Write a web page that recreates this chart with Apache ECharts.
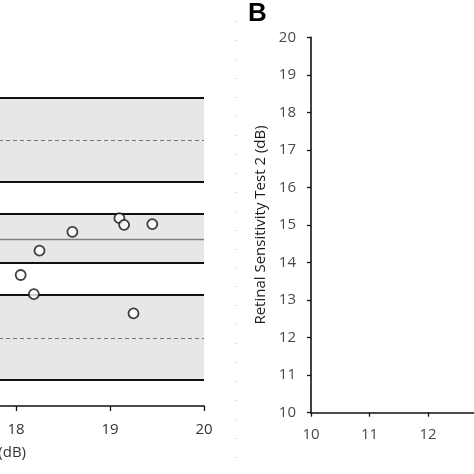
<!DOCTYPE html>
<html>
<head>
<meta charset="utf-8">
<script src="https://cdn.jsdelivr.net/npm/echarts@6/dist/echarts.min.js"></script>
<style>html,body{margin:0;padding:0;background:#fff;}#c{width:474px;height:474px;}</style>
</head>
<body>
<div id="c"></div>
<script>
// Panel A (partial): mean sensitivity (x) vs hidden y scale
const leftX = [19.10, 19.15, 19.45, 18.60, 18.25, 18.05, 18.19, 19.25];
const leftY = [5.09, 4.91, 4.93, 4.72, 4.21, 3.55, 3.03, 2.51];
const bandLimits = [[8.35, 6.07], [5.20, 3.88], [3.01, 0.70]];
const dashedLines = [7.21, 1.84];
const meanLines = [4.53];
const leftTicks = [17, 18, 19, 20];
// Panel B
const rightXTicks = [10, 11, 12, 13, 14, 15, 16, 17, 18, 19, 20];
const rightYTicks = [10, 11, 12, 13, 14, 15, 16, 17, 18, 19, 20];
const labelB = 'B';
const rightYName = 'Retinal Sensitivity Test 2 (dB)';
const leftXName = 'Mean Retinal Sensitivity (dB)';

const font = '"Open Sans", "Noto Sans", sans-serif';
const chart = echarts.init(document.getElementById('c'));

const markAreaData = bandLimits.map(b => [{ yAxis: b[0] }, { yAxis: b[1] }]);
const solidLineData = [];
bandLimits.forEach(b => { solidLineData.push({ yAxis: b[0] }); solidLineData.push({ yAxis: b[1] }); });

chart.setOption({
  animation: false,
  grid: [
    { left: -78, width: 282, top: 37, height: 369, outerBoundsMode: 'none', containLabel: false },
    { left: 311, width: 585, top: 37.3, height: 375.4, outerBoundsMode: 'none', containLabel: false },
    { left: 235, width: 1, top: 21.7, height: 435.3, outerBoundsMode: 'none', containLabel: false }
  ],
  xAxis: [
    {
      gridIndex: 0, type: 'value', min: leftTicks[0], max: leftTicks[leftTicks.length - 1], interval: 1,
      axisLine: { lineStyle: { color: '#111', width: 1.6 } },
      axisTick: { show: true, length: 5, lineStyle: { color: '#111', width: 1.3 } },
      axisLabel: { color: '#333', fontSize: 15, fontWeight: 500, fontFamily: font, margin: 16 },
      splitLine: { show: false }
    },
    {
      gridIndex: 1, type: 'value', min: rightXTicks[0], max: rightXTicks[rightXTicks.length - 1], interval: 1,
      axisLine: { lineStyle: { color: '#111', width: 1.6 } },
      axisTick: { show: true, length: 4, lineStyle: { color: '#111', width: 1.3 } },
      axisLabel: { color: '#4a4a4a', fontSize: 15, fontWeight: 500, fontFamily: font, margin: 15 },
      splitLine: { show: false }
    },
    { gridIndex: 2, type: 'value', show: false }
  ],
  yAxis: [
    { gridIndex: 0, type: 'value', min: 0, max: 10, show: false },
    {
      gridIndex: 1, type: 'value', min: rightYTicks[0], max: rightYTicks[rightYTicks.length - 1], interval: 1,
      axisLine: { show: true, lineStyle: { color: '#111', width: 1.6 } },
      axisTick: { show: true, length: 4, lineStyle: { color: '#111', width: 1.3 } },
      axisLabel: { color: '#4a4a4a', fontSize: 15, fontWeight: 500, fontFamily: font, margin: 15 },
      splitLine: { show: false },
      name: rightYName, nameLocation: 'middle', nameGap: 35,
      nameTextStyle: { color: '#1a1a1a', fontSize: 15, fontWeight: 500, fontFamily: font }
    },
    {
      gridIndex: 2, type: 'value', min: 0, max: 23, interval: 1,
      axisLine: { show: false },
      axisTick: { show: true, inside: true, length: 3, lineStyle: { color: '#e6e6e6', width: 1 } },
      axisLabel: { show: false },
      splitLine: { show: false }
    }
  ],
  graphic: [
    { type: 'text', x: 248, y: 1, style: { text: labelB, font: 'bold 26px "Liberation Sans", Arial, sans-serif', fill: '#000' } },
    { type: 'text', x: 26, y: 445, style: { text: leftXName, font: '500 15px ' + font, fill: '#333', textAlign: 'right' } }
  ],
  series: [
    {
      type: 'scatter', xAxisIndex: 0, yAxisIndex: 0,
      data: leftX.map((x, i) => [x, leftY[i]]),
      symbol: 'circle', symbolSize: 10, z: 5,
      itemStyle: { color: '#fff', borderColor: '#111', borderWidth: 1.8 },
      markArea: { silent: true, itemStyle: { color: '#e7e7e7' }, data: markAreaData },
      markLine: {
        silent: true, symbol: 'none', label: { show: false },
        lineStyle: { type: 'solid', color: '#111', width: 1.8 },
        data: solidLineData
      }
    },
    {
      type: 'line', xAxisIndex: 0, yAxisIndex: 0, data: [], silent: true,
      markLine: {
        silent: true, symbol: 'none', label: { show: false },
        data: dashedLines.map(v => ({ yAxis: v, lineStyle: { type: [4, 3], color: '#777', width: 1.1 } }))
          .concat(meanLines.map(v => ({ yAxis: v, lineStyle: { type: 'solid', color: '#808080', width: 1.3 } })))
      }
    },
    { type: 'scatter', xAxisIndex: 1, yAxisIndex: 1, data: [] },
    { type: 'scatter', xAxisIndex: 2, yAxisIndex: 2, data: [] }
  ]
});
</script>
</body>
</html>
